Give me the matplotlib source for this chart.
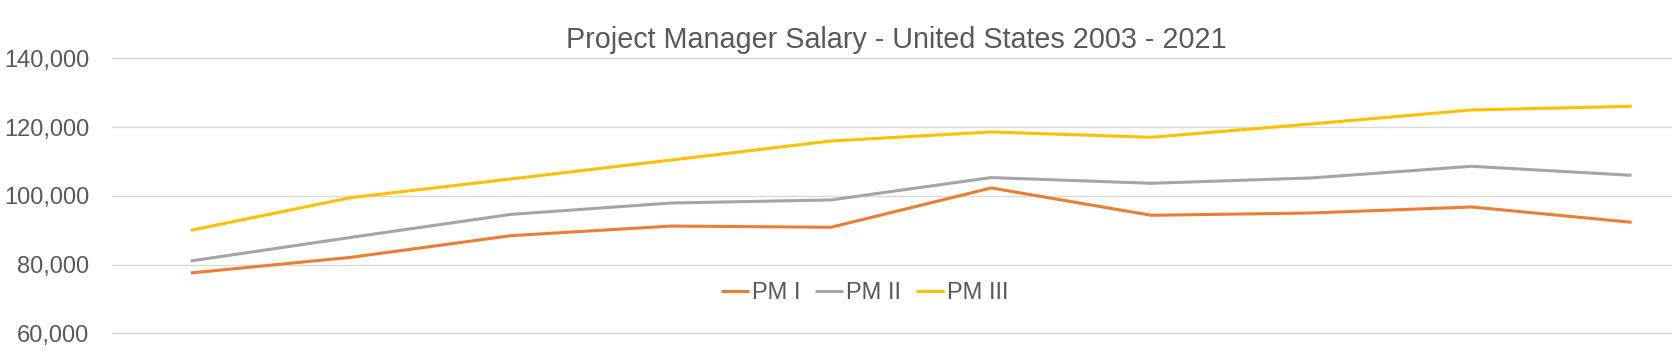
import matplotlib
matplotlib.use("Agg")
import matplotlib.pyplot as plt
from matplotlib.ticker import FuncFormatter

years = [2003, 2005, 2007, 2009, 2011, 2013, 2015, 2017, 2019, 2021]
pm1 = [77550, 82100, 88400, 91200, 90850, 102280, 94330, 95000, 96750, 92290]
pm2 = [81040, 87900, 94600, 97900, 98800, 105300, 103640, 105200, 108580, 105960]
pm3 = [89960, 99470, 104900, 110400, 115950, 118570, 117020, 120900, 124970, 126040]
series_names = ["PM I", "PM II", "PM III"]
yticks = [60000, 80000, 100000, 120000, 140000]

colors = ["#ED7D31", "#A5A5A5", "#FFC000"]
text_color = "#595959"
plt.rcParams['font.family'] = ['Liberation Sans', 'DejaVu Sans']

W, H = 1672, 361
fig = plt.figure(figsize=(W / 100, H / 100), dpi=100)
left, right = 112 / W, 1.0
bottom, top = 1 - 333.3 / H, 1 - 58.3 / H
ax = fig.add_axes([left, bottom, right - left, top - bottom])

x = list(range(len(years)))
for vals, name, c in zip([pm1, pm2, pm3], series_names, colors):
    ax.plot(x, vals, color=c, lw=2.2, label=name, solid_capstyle='butt',
            solid_joinstyle='round')

ax.set_xlim(-0.4916, 9.2524)
ax.set_ylim(60000, 140000)
ax.set_yticks(yticks)
ax.yaxis.set_major_formatter(FuncFormatter(lambda v, p: f"{int(v):,}"))
ax.tick_params(axis='y', length=0, pad=16.5, labelsize=17, labelcolor=text_color)
ax.set_xticks([])
for s in ax.spines.values():
    s.set_visible(False)
ax.grid(axis='y', color='#D9D9D9', lw=1.0)
ax.set_axisbelow(True)
for gl in ax.get_ygridlines():
    gl.set_clip_on(False)

fig.text(896.5 / W, 1 - 40 / H, "Project Manager Salary - United States 2003 - 2021",
         ha='center', va='center', fontsize=20.7, color=text_color)

leg = fig.legend(loc='center', bbox_to_anchor=(864.5 / W, 1 - 293 / H), ncol=3,
                 frameon=False, fontsize=17, handlelength=1.2, handletextpad=0.1,
                 columnspacing=0.64, labelcolor=text_color, borderpad=0)

fig.savefig("out.png", dpi=100, facecolor='white')
